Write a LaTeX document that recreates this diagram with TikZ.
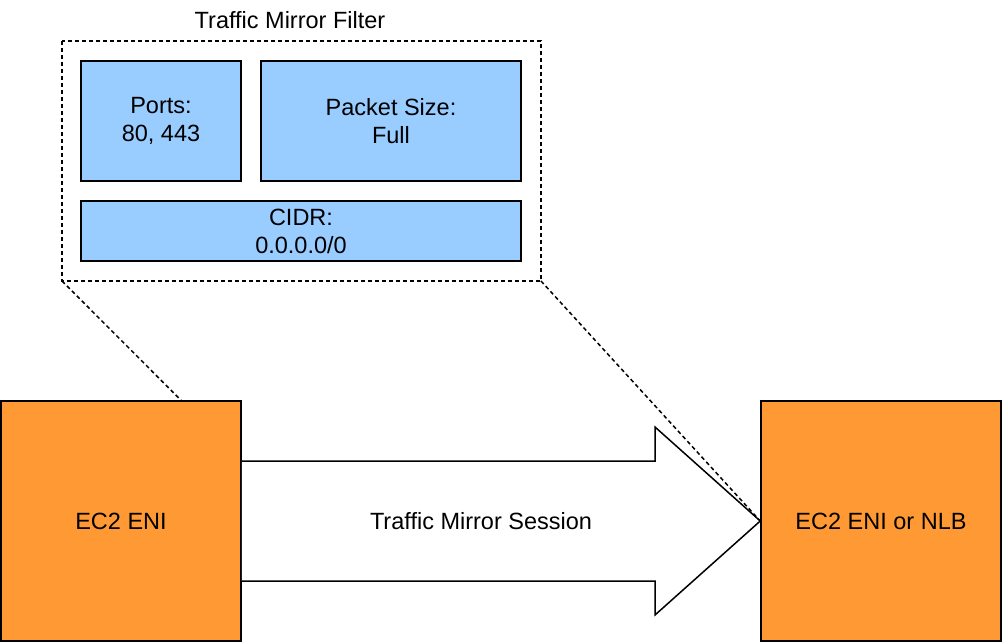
\documentclass[tikz,border=0pt]{standalone}
\usepackage{fontspec}
\setmainfont{Liberation Sans}
\definecolor{filterblue}{HTML}{99CCFF}
\definecolor{eniorange}{HTML}{FF9933}
\begin{document}
\begin{tikzpicture}[x=1pt, y=-1pt, inner sep=0pt, line width=1.5pt, font=\fontsize{23.5}{28}\selectfont]
    \tikzset{
        rule/.style={draw=black, fill=filterblue, align=center},
        eni/.style={draw=black, fill=eniorange, align=center},
        zoom/.style={dash pattern=on 4pt off 3pt},
    }
    \useasboundingbox (0, 0) rectangle (1002, 642);
    \draw[zoom] (62, 41) rectangle (541, 281); % filter frame
    \node (title) at (290, 20) {Traffic Mirror Filter}; % filter title
    \coordinate (fbl) at (62, 281);
    \coordinate (fbr) at (541, 281);
    \node[rule, minimum width=160, minimum height=120] (ports) at (161, 121) {Ports:\\80, 443};
    \node[rule, minimum width=260, minimum height=120] (size) at (391, 121) {Packet Size:\\Full};
    \node[rule, minimum width=440, minimum height=60] (cidr) at (301, 231) {CIDR:\\0.0.0.0/0};
    \node[eni, minimum width=240, minimum height=240] (src) at (121, 521) {EC2 ENI};
    \node[eni, minimum width=240, minimum height=240] (dst) at (881, 521) {EC2 ENI or NLB};
    \draw[fill=white] (src.east |- 0, 461) -- (655, 461) -- (655, 427) -- (dst.west)
        -- (655, 615) -- (655, 581) -- (src.east |- 0, 581); % session arrow
    \node (session) at (481, 521) {Traffic Mirror Session};
    \draw[zoom] (fbl) -- (src.north -| 181, 0); % zoom left
    \draw[zoom] (fbr) -- (dst.west); % zoom right
\end{tikzpicture}
\end{document}
